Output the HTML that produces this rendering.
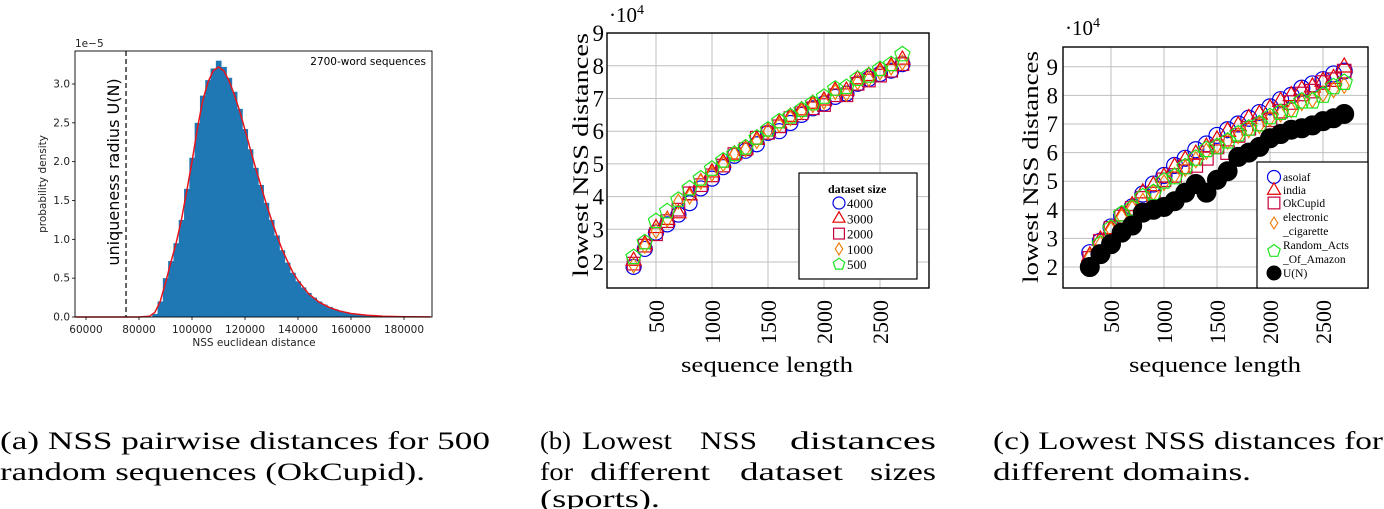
<!DOCTYPE html>
<html><head><meta charset="utf-8"><style>
html,body{margin:0;padding:0;background:#fff;}
svg{display:block;}
.ser{font-family:"Liberation Serif","DejaVu Serif",serif;}
.san{font-family:"DejaVu Sans","Liberation Sans",sans-serif;}
</style></head><body>
<svg id="fig" width="1384" height="509" viewBox="0 0 1384 509" xmlns="http://www.w3.org/2000/svg">
<g id="pa"></g>
<g id="pb"></g>
<g id="pc"></g>
<g class="ser" font-size="25" fill="#000">
<text x="0" y="449" textLength="490" lengthAdjust="spacingAndGlyphs">(a) NSS pairwise distances for 500</text>
<text x="0" y="480" textLength="425" lengthAdjust="spacingAndGlyphs">random sequences (OkCupid).</text>
<g>
<text x="540" y="449" textLength="31" lengthAdjust="spacingAndGlyphs">(b)</text>
<text x="582" y="449" textLength="90" lengthAdjust="spacingAndGlyphs">Lowest</text>
<text x="700" y="449" textLength="57" lengthAdjust="spacingAndGlyphs">NSS</text>
<text x="790" y="449" textLength="146" lengthAdjust="spacingAndGlyphs">distances</text>
</g>
<g>
<text x="540" y="480" textLength="33" lengthAdjust="spacingAndGlyphs">for</text>
<text x="590" y="480" textLength="120" lengthAdjust="spacingAndGlyphs">different</text>
<text x="740" y="480" textLength="103" lengthAdjust="spacingAndGlyphs">dataset</text>
<text x="870" y="480" textLength="66" lengthAdjust="spacingAndGlyphs">sizes</text>
</g>
<text x="540" y="507" textLength="120" lengthAdjust="spacingAndGlyphs">(sports).</text>
<text x="993" y="449" textLength="390" lengthAdjust="spacingAndGlyphs">(c) Lowest NSS distances for</text>
<text x="993" y="480" textLength="258" lengthAdjust="spacingAndGlyphs">different domains.</text>
</g>
</svg>
<script>
// ---------- Panel A data ----------
const histBins = [86,88,90,92,94,96,98,100,102,104,106,108,110,112,114,116,118,120,122,124,126,128,130,132,134,136,138,140,142,144,146,148,150,152,154,156,158,160,162,164,166,168,170,172,174,176,178,180,182,184,186,188];
const histDensity = [0.04,0.2,0.5,0.72,0.95,1.25,1.65,2.05,2.5,2.85,3.05,3.2,3.3,3.22,3.08,2.9,2.68,2.42,2.16,1.92,1.7,1.47,1.25,1.05,0.86,0.7,0.57,0.46,0.38,0.31,0.25,0.2,0.16,0.13,0.1,0.08,0.065,0.05,0.04,0.03,0.024,0.018,0.014,0.01,0.008,0.006,0.005,0.004,0.003,0.002,0.002,0.001];
const fitX = [56,70,80,84,86,88,90,92,94,96,98,100,102,104,106,108,110,112,114,116,118,120,122,124,126,128,130,132,134,136,138,140,144,148,152,156,160,166,172,180,190];
const fitY = [0,0,0,0.01,0.06,0.2,0.44,0.7,0.95,1.25,1.62,2.0,2.42,2.78,3.02,3.17,3.22,3.17,3.04,2.86,2.65,2.41,2.16,1.92,1.69,1.46,1.25,1.05,0.87,0.72,0.58,0.47,0.3,0.19,0.12,0.075,0.045,0.022,0.01,0.004,0.001];
const aXTicks = [60000,80000,100000,120000,140000,160000,180000];
const aYTicks = [0,0.5,1.0,1.5,2.0,2.5,3.0];
const uniquenessRadius = 75100;

// ---------- Panel B data ----------
const seqLen = [300,400,500,600,700,800,900,1000,1100,1200,1300,1400,1500,1600,1700,1800,1900,2000,2100,2200,2300,2400,2500,2600,2700];
const b4000 = [1.85,2.4,2.9,3.15,3.45,3.8,4.25,4.55,4.9,5.25,5.4,5.6,5.95,6.0,6.25,6.5,6.7,6.85,7.05,7.15,7.45,7.6,7.75,7.85,8.05];
const b3000 = [2.05,2.55,3.05,3.3,3.5,4.05,4.45,4.75,5.05,5.3,5.45,5.75,6.0,6.25,6.45,6.65,6.85,6.95,7.25,7.25,7.6,7.7,7.85,8.0,8.2];
const b2000 = [1.95,2.5,2.85,3.25,3.6,4.1,4.35,4.65,4.95,5.3,5.45,5.8,5.95,6.15,6.4,6.55,6.7,6.8,7.1,7.1,7.45,7.55,7.7,7.85,8.05];
const b1000 = [1.9,2.5,2.95,3.3,3.85,4.0,4.45,4.7,5.0,5.3,5.45,5.7,6.0,6.2,6.4,6.6,6.8,6.9,7.2,7.15,7.5,7.6,7.8,7.95,8.1];
const b500 = [2.15,2.6,3.25,3.55,3.9,4.25,4.55,4.85,5.1,5.3,5.5,5.8,6.05,6.3,6.45,6.65,6.85,7.05,7.3,7.35,7.6,7.7,7.9,8.05,8.35];
const bXTicks = [500,1000,1500,2000,2500];
const bYTicks = [2,3,4,5,6,7,8,9];
const bLegend = ["4000","3000","2000","1000","500"];

// ---------- Panel C data ----------
const cAsoiaf = [2.5,2.9,3.4,3.8,4.1,4.55,4.9,5.2,5.55,5.8,6.1,6.3,6.6,6.8,7.0,7.2,7.4,7.6,7.85,8.0,8.25,8.4,8.55,8.75,8.85];
const cIndia = [2.4,2.95,3.35,3.8,4.15,4.6,4.85,5.15,5.5,5.75,5.95,6.2,6.45,6.75,6.95,7.2,7.35,7.55,7.8,8.0,8.2,8.3,8.5,8.6,9.0];
const cOkCupid = [2.3,2.9,3.35,3.75,4.05,4.4,4.55,5.05,5.2,5.5,5.55,5.8,6.2,6.0,6.6,6.85,7.0,7.15,7.45,7.75,8.05,8.15,8.45,8.55,8.85];
const cElectronic = [2.35,2.8,3.3,3.75,4.05,4.3,4.6,4.95,5.2,5.45,5.75,6.05,6.25,6.4,6.6,6.8,6.95,7.2,7.35,7.5,7.75,7.85,8.05,8.2,8.35];
const cRandom = [1.95,2.8,3.35,3.85,4.05,4.45,4.6,5.0,5.15,5.5,5.8,6.1,6.2,6.4,6.65,6.85,7.0,7.25,7.4,7.5,7.8,7.8,8.0,8.3,8.45];
const cUN = [2.0,2.45,2.8,3.2,3.45,3.9,4.0,4.1,4.3,4.6,4.9,4.6,5.05,5.35,5.85,6.0,6.2,6.5,6.65,6.8,6.85,6.95,7.1,7.2,7.35];
const cXTicks = [500,1000,1500,2000,2500];
const cYTicks = [2,3,4,5,6,7,8,9];
const cLegend = ["asoiaf","india","OkCupid","electronic|_cigarette","Random_Acts|_Of_Amazon","U(N)"];

const NS = "http://www.w3.org/2000/svg";
function mk(parent, tag, attrs){ const e=document.createElementNS(NS,tag); for(const k in attrs) e.setAttribute(k,attrs[k]); parent.appendChild(e); return e; }

// ===== Panel A =====
(function(){
  const g = document.getElementById('pa');
  const L=75,R=432,T=51,B=317;
  const ax = v => 86 + (v-60000)*0.00265;
  const ay = d => B - d*77.67;
  const bars = mk(g,'g',{});
  
  
  histBins.forEach((b,i)=>{
    const x0=ax(b*1000-1000), x1=ax(b*1000+1000);
    const r=mk(bars,'rect',{x:x0,y:ay(histDensity[i]),width:x1-x0+0.4,height:B-ay(histDensity[i]),fill:'#1f77b4'});
    
    
  });
  let d=''; fitX.forEach((v,i)=>{ d+=(i?'L':'M')+Math.max(L,ax(v*1000)).toFixed(1)+','+ay(fitY[i]).toFixed(1); });
  const fit=mk(g,'path',{d:d,fill:'none',stroke:'#e8141c','stroke-width':1.5});
  
  
  const dl=mk(g,'line',{x1:ax(uniquenessRadius),x2:ax(uniquenessRadius),y1:T,y2:B,stroke:'#000','stroke-width':1.2,'stroke-dasharray':'5,3'});
  
  
  const fr=mk(g,'rect',{x:L,y:T,width:R-L,height:B-T,fill:'none',stroke:'#000','stroke-width':0.9});
  
  
  aXTicks.forEach(v=>{
    mk(g,'line',{x1:ax(v),x2:ax(v),y1:B,y2:B+3,stroke:'#000','stroke-width':0.8});
    const t=mk(g,'text',{x:ax(v),y:B+16,'text-anchor':'middle','font-size':10.5,class:'san',fill:'#222'}); t.textContent=v;
    
    
  });
  aYTicks.forEach(v=>{
    mk(g,'line',{x1:L-3,x2:L,y1:ay(v),y2:ay(v),stroke:'#000','stroke-width':0.8});
    const t=mk(g,'text',{x:L-5,y:ay(v)+3.5,'text-anchor':'end','font-size':10.5,class:'san',fill:'#222'}); t.textContent=v.toFixed(1);
    
    
  });
  const ex=mk(g,'text',{x:L,y:47,'font-size':10.5,class:'san',fill:'#222'}); ex.textContent='1e\u22125';
  
  
  const an=mk(g,'text',{x:426,y:65,'text-anchor':'end','font-size':10.5,class:'san'}); an.textContent='2700-word sequences';
  
  
  const ul=mk(g,'text',{x:0,y:0,'text-anchor':'middle','font-size':16,class:'san',transform:'translate(119,172) rotate(-90)'}); ul.textContent='uniqueness radius U(N)';
  
  
  const xl=mk(g,'text',{x:254,y:346,'text-anchor':'middle','font-size':10.5,class:'san',fill:'#222'}); xl.textContent='NSS euclidean distance';
  
  
  const yl=mk(g,'text',{x:0,y:0,'text-anchor':'middle','font-size':10.5,class:'san',fill:'#222',transform:'translate(46,184) rotate(-90)'}); yl.textContent='probability density';
  
  
})();

function marker(g, shape, cx, cy, r, color){
  let e;
  if(shape==='circle') e=mk(g,'circle',{cx:cx,cy:cy,r:r,fill:'none',stroke:color,'stroke-width':1.2});
  else if(shape==='fcircle') e=mk(g,'circle',{cx:cx,cy:cy,r:r,fill:'#000',stroke:'#000','stroke-width':1});
  else if(shape==='square') e=mk(g,'rect',{x:cx-r*0.9,y:cy-r*0.9,width:r*1.8,height:r*1.8,fill:'none',stroke:color,'stroke-width':1.2});
  else if(shape==='triangle') e=mk(g,'polygon',{points:`${cx},${cy-r*1.1} ${cx-r},${cy+r*0.65} ${cx+r},${cy+r*0.65}`,fill:'none',stroke:color,'stroke-width':1.2});
  else if(shape==='diamond') e=mk(g,'polygon',{points:`${cx},${cy-r} ${cx+r*0.62},${cy} ${cx},${cy+r} ${cx-r*0.62},${cy}`,fill:'none',stroke:color,'stroke-width':1.1});
  else { let p=[]; for(let k=0;k<5;k++){const a=-Math.PI/2+k*2*Math.PI/5; p.push((cx+r*Math.cos(a)).toFixed(1)+','+(cy+r*Math.sin(a)).toFixed(1));} e=mk(g,'polygon',{points:p.join(' '),fill:'none',stroke:color,'stroke-width':1.2}); }
  return e;
}

function linePanel(g, cfg){
  const {L,R,T,B,ax,ay,xt,yt,series,fs} = cfg;
  xt.forEach(v=>{ const l=mk(g,'line',{x1:ax(v),x2:ax(v),y1:T,y2:B,stroke:'#bfbfbf','stroke-width':1});   });
  yt.forEach(v=>{ const l=mk(g,'line',{x1:L,x2:R,y1:ay(v),y2:ay(v),stroke:'#bfbfbf','stroke-width':1});   });
  series.forEach(s=>{
    const sg=mk(g,'g',{});
    
    
    seqLen.forEach((x,i)=>{ const m=marker(sg,s.shape,ax(x),ay(s.data[i]),s.r,s.color);
      
       });
  });
  const fr=mk(g,'rect',{x:L,y:T,width:R-L,height:B-T,fill:'none',stroke:'#000','stroke-width':1.4});
  
  
  xt.forEach(v=>{
    const t=mk(g,'text',{x:0,y:0,'text-anchor':'end','font-size':22,class:'ser',transform:`translate(${ax(v)+8},${B+12}) rotate(-90)`}); t.textContent=v;
    
    
  });
  yt.forEach(v=>{
    const t=mk(g,'text',{x:cfg.ytx,y:ay(v)+8,'text-anchor':'end','font-size':23,class:'ser'}); t.textContent=v;
    
    
  });
  const ex=mk(g,'text',{x:cfg.exX,y:cfg.exY,'font-size':fs,class:'ser'}); ex.innerHTML='\u00b710<tspan dy="-8" font-size="14">4</tspan>';
  
  
  const xl=mk(g,'text',{x:cfg.xlX,y:372,'font-size':22,class:'ser',textLength:172,lengthAdjust:'spacingAndGlyphs'}); xl.textContent='sequence length';
  
  
  const yl=mk(g,'text',{x:0,y:0,'font-size':22,class:'ser',textLength:cfg.ylLen,lengthAdjust:'spacingAndGlyphs',transform:`translate(${cfg.ylX},${cfg.ylY}) rotate(-90)`}); yl.textContent='lowest NSS distances';
  
  
}

// ===== Panel B =====
(function(){
  const g=document.getElementById('pb');
  const ax=v=>656+(v-500)*0.112, ay=v=>262-(v-2)*32.7;
  linePanel(g,{L:607,R:929,T:33,B:288,ax,ay,xt:bXTicks,yt:bYTicks,fs:21,ytx:604,exX:609,exY:22,xlX:681,ylX:588,ylY:277,ylLen:244,
    series:[{name:'4000',data:b4000,shape:'circle',color:'#0000e6',r:7.5},{name:'3000',data:b3000,shape:'triangle',color:'#e60000',r:7.5},
    {name:'2000',data:b2000,shape:'square',color:'#c8003c',r:7},{name:'1000',data:b1000,shape:'diamond',color:'#f07800',r:7.5},{name:'500',data:b500,shape:'pentagon',color:'#1ee61e',r:8}]});
  const lg=mk(g,'g',{});  
  mk(lg,'rect',{x:799,y:173,width:118,height:106,fill:'#fff',stroke:'#000','stroke-width':1.2});
  const tt=mk(lg,'text',{x:828,y:193,'font-size':12,'font-weight':'bold',class:'ser'}); tt.textContent='dataset size';
  const shapes=['circle','triangle','square','diamond','pentagon'], cols=['#0000e6','#e60000','#c8003c','#f07800','#1ee61e'];
  bLegend.forEach((n,i)=>{ const y=203+i*15.3; const e=mk(lg,'g',{});  
    marker(e,shapes[i],839,y,6,cols[i]); const t=mk(e,'text',{x:847,y:y+5,'font-size':13,class:'ser'}); t.textContent=n; });
})();

// ===== Panel C =====
(function(){
  const g=document.getElementById('pc');
  const ax=v=>1111+(v-500)*0.106, ay=v=>267-(v-2)*28.6;
  linePanel(g,{L:1063,R:1368,T:47,B:288,ax,ay,xt:cXTicks,yt:cYTicks,fs:21,ytx:1058,exX:1065,exY:35,xlX:1129,ylX:1038,ylY:283,ylLen:232,
    series:[{name:'asoiaf',data:cAsoiaf,shape:'circle',color:'#0000e6',r:8},{name:'india',data:cIndia,shape:'triangle',color:'#e60000',r:8},
    {name:'okcupid',data:cOkCupid,shape:'square',color:'#c8003c',r:7.5},{name:'electronic-cigarette',data:cElectronic,shape:'diamond',color:'#f07800',r:8},
    {name:'random-acts-of-amazon',data:cRandom,shape:'pentagon',color:'#1ee61e',r:8.5},{name:'u-n',data:cUN,shape:'fcircle',color:'#000',r:9.5}]});
  const lg=mk(g,'g',{});  
  mk(lg,'rect',{x:1257,y:162,width:111,height:126,fill:'#fff',stroke:'#000','stroke-width':1.2});
  const shapes=['circle','triangle','square','diamond','pentagon','fcircle'], cols=['#0000e6','#e60000','#c8003c','#f07800','#1ee61e','#000'];
  const ys=[177,190,203,223,251,273], rs=[6.5,6.5,6.5,6,6.5,7];
  cLegend.forEach((n,i)=>{ const e=mk(lg,'g',{});  
    marker(e,shapes[i],1274,ys[i],rs[i],cols[i]);
    const parts=n.split('|');
    parts.forEach((p,k)=>{ const y = parts.length>1 ? ys[i]-6+k*14 : ys[i]; const t=mk(e,'text',{x:1283,y:y+4,'font-size':11.5,class:'ser'}); t.textContent=p; });
  });
})();
</script>
</body></html>
